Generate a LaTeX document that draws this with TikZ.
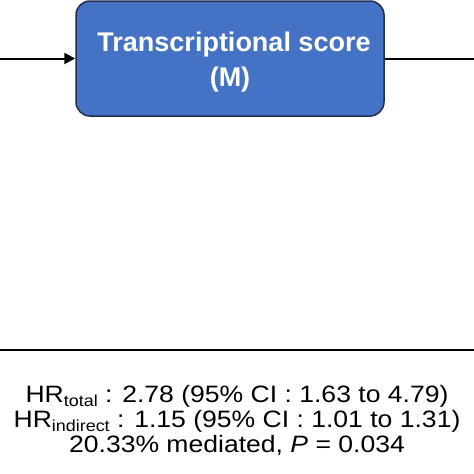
\documentclass[tikz,border=0pt]{standalone}
\usepackage{fontspec}
\setmainfont{Liberation Sans}
\newfontfamily\statsfont[FakeStretch=1.12]{Liberation Sans}
\usetikzlibrary{arrows.meta}
\definecolor{boxblue}{HTML}{4472C4}
\definecolor{boxedge}{HTML}{1F3050}
\newcommand{\hrsub}[1]{\raisebox{-4pt}{\fontsize{16}{16}\selectfont #1}}

\begin{document}
\begin{tikzpicture}[x=1pt, y=-1pt]
  \useasboundingbox (0,0) rectangle (474,474);

  \node[draw=boxedge, line width=1.5pt, fill=boxblue, rounded corners=14pt, minimum width=308pt, minimum height=115pt,
        text=white, align=center, text height=61pt, font=\fontsize{27}{35}\selectfont\bfseries] (m) at (230,58.5) {\hspace{8pt}Transcriptional score\\(M)};

  \coordinate (in) at (0,58.5);
  \coordinate (out) at (474,58.5);
  \draw[line width=2pt, -{Triangle[length=11pt, width=11pt]}] (in) -- (m.west);
  \draw[line width=2pt] (m.east) -- (out);

  \coordinate (rulel) at (0,350);
  \coordinate (ruler) at (474,350);
  \draw[line width=2pt] (rulel) -- (ruler);

  \node[align=center, font=\statsfont\fontsize{23.7}{25}\selectfont] (stats) at (237,420)
    {HR\hrsub{total} : 2.78 (95\% CI : 1.63 to 4.79)\\
     HR\hrsub{indirect} : 1.15 (95\% CI : 1.01 to 1.31)\\
     20.33\% mediated, \textit{P} = 0.034};
\end{tikzpicture}
\end{document}
